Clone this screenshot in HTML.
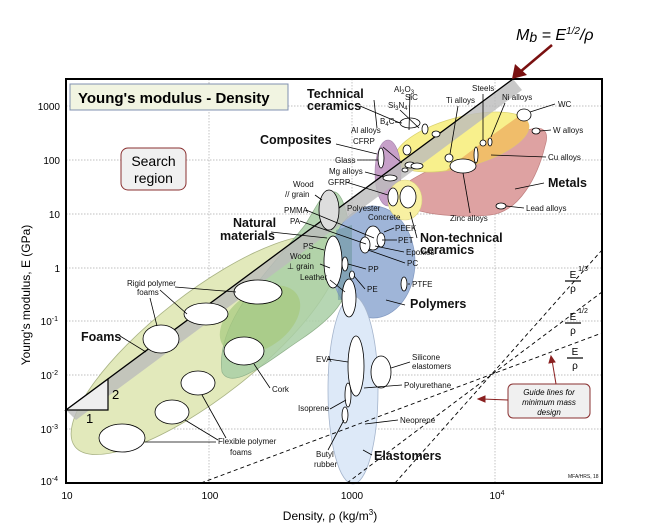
<!DOCTYPE html>
<html><head><meta charset="utf-8"><style>
body{margin:0;background:#fff}
svg{display:block;font-family:"Liberation Sans",Arial,sans-serif}
.s{font-size:8px;fill:#111}
.b{font-size:12.5px;font-weight:bold;fill:#111}
.w{fill:#fff;stroke:#000;stroke-width:0.8}
.l{stroke:#000;stroke-width:0.8;fill:none}
.g{stroke:#aaa;stroke-width:0.7;stroke-dasharray:1.5 1.5;fill:none}
</style></head><body>
<svg width="656" height="528" viewBox="0 0 656 528">
<defs>
<clipPath id="mc"><path d="M395,195 C400,178 470,152 528,130 C546,124 549,134 545,146 C538,175 520,212 490,215 C450,219 397,212 395,195Z"/></clipPath>
</defs>
<!-- grid -->
<g class="g">
<line x1="209" y1="79" x2="209" y2="483"/><line x1="352" y1="79" x2="352" y2="483"/><line x1="495" y1="79" x2="495" y2="483"/>
<line x1="66" y1="106" x2="602" y2="106"/><line x1="66" y1="160" x2="602" y2="160"/><line x1="66" y1="214" x2="602" y2="214"/>
<line x1="66" y1="268" x2="602" y2="268"/><line x1="66" y1="321" x2="602" y2="321"/><line x1="66" y1="375" x2="602" y2="375"/><line x1="66" y1="429" x2="602" y2="429"/>
</g>
<!-- regions -->
<ellipse cx="205" cy="345" rx="165" ry="52" transform="rotate(-38 205 345)" fill="#e2e9bb" stroke="#a9b384" stroke-width="0.8"/>
<path d="M222,372 C215,320 270,270 305,225 C318,205 322,190 335,192 C345,195 352,230 352,262 C352,300 330,320 300,340 C270,360 232,392 222,372Z" fill="#a9cfa6" fill-opacity="0.85" stroke="#8fb08a" stroke-width="0.7"/>
<ellipse cx="260" cy="320" rx="45" ry="28" transform="rotate(-35 260 320)" fill="#a6c97e" fill-opacity="0.7"/>
<ellipse cx="373" cy="262" rx="42" ry="56" fill="#9fb5d8" stroke="#8098c0" stroke-width="0.7"/>
<path d="M336,230 L352,225 L352,300 L338,300Z" fill="#6f98a0" fill-opacity="0.6"/>
<ellipse cx="353" cy="390" rx="25" ry="94" fill="#dde9f8" stroke="#a4b4cc" stroke-width="0.8"/>
<path d="M395,195 C400,178 470,152 528,130 C546,124 549,134 545,146 C538,175 520,212 490,215 C450,219 397,212 395,195Z" fill="#dea2a2" stroke="#c08080" stroke-width="0.7"/>
<ellipse cx="462" cy="142" rx="69" ry="25" transform="rotate(-15 462 142)" fill="#f8f08c" stroke="#d8d070" stroke-width="0.7"/>
<ellipse cx="462" cy="142" rx="69" ry="25" transform="rotate(-15 462 142)" fill="#f0bd6a" clip-path="url(#mc)"/>
<ellipse cx="388" cy="173" rx="13" ry="33" fill="#c7a0c9" stroke="#a080a8" stroke-width="0.6"/>
<ellipse cx="405" cy="200" rx="17" ry="20" fill="#f8f0a2" stroke="#d8d080" stroke-width="0.6"/>
<!-- gray band + line -->
<polygon points="66,410 513,79 522,90 76,420" fill="#bbb" fill-opacity="0.8"/>
<line x1="66" y1="410" x2="513" y2="79" stroke="#000" stroke-width="1.3"/>
<polygon points="66,410 108,410 108,379" fill="#eee" stroke="#000" stroke-width="1.2"/>
<text x="112" y="399" style="font-size:13px">2</text><text x="86" y="423" style="font-size:13px">1</text>
<!-- bubbles -->
<g class="w">
<ellipse cx="122" cy="438" rx="23" ry="14"/><ellipse cx="172" cy="412" rx="17" ry="12"/><ellipse cx="198" cy="383" rx="17" ry="12"/>
<ellipse cx="244" cy="351" rx="20" ry="14"/><ellipse cx="161" cy="339" rx="18" ry="14"/><ellipse cx="206" cy="314" rx="22" ry="11"/><ellipse cx="258" cy="292" rx="24" ry="12"/>
<ellipse cx="356" cy="366" rx="8" ry="30"/><ellipse cx="381" cy="372" rx="10" ry="16"/><ellipse cx="348" cy="395" rx="3" ry="12"/><ellipse cx="345" cy="415" rx="3" ry="8"/>
<ellipse cx="349" cy="298" rx="7" ry="19"/><ellipse cx="333" cy="262" rx="9" ry="26"/><ellipse cx="345" cy="264" rx="3" ry="7"/><ellipse cx="352" cy="275" rx="2.5" ry="4"/>
<ellipse cx="404" cy="284" rx="3" ry="7"/><ellipse cx="373" cy="238" rx="8" ry="12"/><ellipse cx="365" cy="245" rx="5" ry="8"/><ellipse cx="381" cy="240" rx="4" ry="7"/>
<ellipse cx="381" cy="158" rx="3" ry="10"/><ellipse cx="393" cy="197" rx="5" ry="9"/><ellipse cx="408" cy="197" rx="8" ry="11"/>
<ellipse cx="410" cy="123" rx="10" ry="5"/><ellipse cx="425" cy="129" rx="3" ry="5"/><ellipse cx="436" cy="134" rx="4" ry="3"/><ellipse cx="407" cy="150" rx="4" ry="5"/>
<ellipse cx="449" cy="158" rx="4" ry="4"/><ellipse cx="483" cy="143" rx="3" ry="3"/><ellipse cx="490" cy="142" rx="2" ry="4"/><ellipse cx="476" cy="155" rx="2" ry="8"/>
<ellipse cx="463" cy="166" rx="13" ry="7"/><ellipse cx="524" cy="115" rx="7" ry="6"/><ellipse cx="536" cy="131" rx="4" ry="3"/><ellipse cx="501" cy="206" rx="5" ry="3"/>
<ellipse cx="410" cy="165" rx="5" ry="3"/><ellipse cx="417" cy="166" rx="6" ry="3"/><ellipse cx="390" cy="178" rx="7" ry="3"/><ellipse cx="405" cy="170" rx="3" ry="2"/>
</g>
<ellipse cx="329" cy="210" rx="10" ry="20" fill="#ddd" stroke="#000" stroke-width="0.8"/>
<!-- guide lines -->
<g stroke="#000" stroke-width="0.9" stroke-dasharray="4 3" fill="none">
<line x1="201" y1="483" x2="602" y2="333"/><line x1="347" y1="483" x2="602" y2="292"/><line x1="395" y1="483" x2="602" y2="250"/>
</g>
<!-- frame -->
<rect x="66" y="79" width="536" height="404" fill="none" stroke="#000" stroke-width="2"/>
<!-- title & boxes -->
<rect x="70" y="84" width="218" height="26" fill="#f1f4e1" stroke="#8090b0" stroke-width="1"/>
<text x="78" y="103" style="font-size:15px;font-weight:bold">Young's modulus - Density</text>
<rect x="121" y="148" width="65" height="42" rx="7" fill="#f0f0f0" stroke="#8a3030" stroke-width="1"/>
<text x="153.5" y="166" text-anchor="middle" style="font-size:14px">Search</text><text x="153.5" y="183" text-anchor="middle" style="font-size:14px">region</text>
<rect x="508" y="384" width="82" height="34" rx="5" fill="#f0f0f0" stroke="#8a3030" stroke-width="1"/>
<text x="549" y="395" text-anchor="middle" style="font-size:8px;font-style:italic">Guide lines for</text>
<text x="549" y="405" text-anchor="middle" style="font-size:8px;font-style:italic">minimum mass</text>
<text x="549" y="415" text-anchor="middle" style="font-size:8px;font-style:italic">design</text>
<g stroke="#8a2020" stroke-width="1" fill="#8a2020">
<line x1="508" y1="400" x2="482" y2="399"/><polygon points="478,399 485,396 485,402"/>
<line x1="556" y1="384" x2="552" y2="360"/><polygon points="551,356 549,363 555,362"/>
</g>
<!-- Mb arrow -->
<line x1="552" y1="45" x2="520" y2="72" stroke="#7a1010" stroke-width="2.5"/><polygon points="512,79 515,64 527,75" fill="#7a1010"/>
<text x="516" y="40" style="font-size:16px;font-style:italic">M<tspan style="font-size:14px" dy="2">b</tspan><tspan dy="-2"> = E</tspan><tspan style="font-size:10px" dy="-6">1/2</tspan><tspan dy="6">/ρ</tspan></text>
<!-- E/rho labels -->
<g style="font-size:10px" text-anchor="middle">
<text x="573" y="278">E</text><text x="583" y="271" style="font-size:7px">1/3</text><line x1="565" y1="281" x2="581" y2="281" stroke="#000" stroke-width="1.2"/><text x="573" y="292">ρ</text>
<text x="573" y="320">E</text><text x="583" y="313" style="font-size:7px">1/2</text><line x1="565" y1="323" x2="581" y2="323" stroke="#000" stroke-width="1.2"/><text x="573" y="334">ρ</text>
<text x="575" y="355">E</text><line x1="567" y1="358" x2="583" y2="358" stroke="#000" stroke-width="1.2"/><text x="575" y="369">ρ</text>
</g>
<!-- category labels -->
<text class="b" x="307" y="98">Technical</text><text class="b" x="307" y="110">ceramics</text>
<text class="b" x="260" y="144">Composites</text>
<text class="b" x="548" y="187">Metals</text>
<text class="b" x="233" y="227">Natural</text><text class="b" x="220" y="240">materials</text>
<text class="b" x="420" y="242">Non-technical</text><text class="b" x="420" y="254">ceramics</text>
<text class="b" x="410" y="308">Polymers</text>
<text class="b" x="81" y="341">Foams</text>
<text class="b" x="374" y="460">Elastomers</text>
<g class="l">
<line x1="336" y1="144" x2="377" y2="154"/><line x1="544" y1="183" x2="515" y2="189"/><line x1="271" y1="232" x2="327" y2="238"/>
<line x1="417" y1="238" x2="410" y2="212"/><line x1="405" y1="305" x2="386" y2="300"/><line x1="120" y1="336" x2="146" y2="352"/>
<line x1="372" y1="455" x2="363" y2="450"/><line x1="360" y1="106" x2="400" y2="123"/>
</g>
<!-- small labels -->
<g class="s">
<text x="394" y="92">Al<tspan font-size="6" dy="2">2</tspan><tspan dy="-2">O</tspan><tspan font-size="6" dy="2">3</tspan></text>
<text x="405" y="100">SiC</text><text x="388" y="108">Si<tspan font-size="6" dy="2">3</tspan><tspan dy="-2">N</tspan><tspan font-size="6" dy="2">4</tspan></text>
<text x="380" y="124">B<tspan font-size="6" dy="2">4</tspan><tspan dy="-2">C</tspan></text>
<text x="446" y="103">Ti alloys</text><text x="472" y="91">Steels</text><text x="502" y="100">Ni alloys</text>
<text x="558" y="107">WC</text><text x="553" y="133">W alloys</text><text x="548" y="160">Cu alloys</text><text x="526" y="211">Lead alloys</text>
<text x="351" y="133">Al alloys</text><text x="353" y="144">CFRP</text><text x="335" y="163">Glass</text>
<text x="329" y="174">Mg alloys</text><text x="328" y="185">GFRP</text>
<text x="450" y="221">Zinc alloys</text><text x="368" y="220">Concrete</text><text x="347" y="211">Polyester</text>
<text x="395" y="231">PEEK</text><text x="398" y="243">PET</text><text x="406" y="255">Epoxies</text><text x="407" y="266">PC</text>
<text x="368" y="272">PP</text><text x="367" y="292">PE</text><text x="412" y="287">PTFE</text>
<text x="293" y="187">Wood</text><text x="285" y="197">// grain</text><text x="284" y="213">PMMA</text><text x="290" y="224">PA</text>
<text x="303" y="249">PS</text><text x="290" y="259">Wood</text><text x="287" y="269">⊥ grain</text><text x="300" y="280">Leather</text>
<text x="127" y="286">Rigid polymer</text><text x="137" y="295">foams</text>
<text x="272" y="392">Cork</text><text x="218" y="444">Flexible polymer</text><text x="230" y="455">foams</text>
<text x="316" y="362">EVA</text><text x="412" y="360">Silicone</text><text x="412" y="369">elastomers</text>
<text x="404" y="388">Polyurethane</text><text x="298" y="411">Isoprene</text><text x="400" y="423">Neoprene</text>
<text x="316" y="457">Butyl</text><text x="314" y="467">rubber</text>
<text x="568" y="478" style="font-size:5px">MFA/HRS, 18</text>
</g>
<g class="l">
<line x1="374" y1="100" x2="377" y2="128"/><line x1="410" y1="94" x2="409" y2="130"/><line x1="400" y1="110" x2="419" y2="128"/>
<line x1="395" y1="122" x2="402" y2="123"/><line x1="458" y1="106" x2="450" y2="154"/><line x1="483" y1="94" x2="483" y2="140"/>
<line x1="505" y1="103" x2="491" y2="137"/><line x1="555" y1="104" x2="530" y2="112"/><line x1="551" y1="130" x2="540" y2="131"/>
<line x1="546" y1="157" x2="491" y2="155"/><line x1="524" y1="208" x2="506" y2="206"/><line x1="470" y1="213" x2="463" y2="173"/>
<line x1="383" y1="147" x2="402" y2="163"/><line x1="357" y1="160" x2="378" y2="160"/><line x1="365" y1="172" x2="384" y2="177"/>
<line x1="346" y1="182" x2="388" y2="195"/><line x1="394" y1="228" x2="384" y2="232"/><line x1="397" y1="240" x2="382" y2="240"/>
<line x1="404" y1="252" x2="375" y2="246"/><line x1="405" y1="263" x2="368" y2="250"/><line x1="366" y1="269" x2="348" y2="264"/>
<line x1="365" y1="289" x2="354" y2="276"/><line x1="410" y1="284" x2="408" y2="284"/><line x1="315" y1="195" x2="322" y2="200"/>
<line x1="306" y1="210" x2="374" y2="238"/><line x1="300" y1="221" x2="366" y2="244"/><line x1="313" y1="247" x2="324" y2="250"/>
<line x1="320" y1="264" x2="330" y2="268"/><line x1="330" y1="280" x2="345" y2="292"/><line x1="175" y1="287" x2="236" y2="292"/>
<line x1="160" y1="290" x2="187" y2="314"/><line x1="150" y1="298" x2="157" y2="326"/><line x1="270" y1="388" x2="254" y2="364"/>
<line x1="216" y1="442" x2="145" y2="442"/><line x1="218" y1="440" x2="185" y2="420"/><line x1="226" y1="438" x2="202" y2="395"/>
<line x1="328" y1="359" x2="348" y2="362"/><line x1="410" y1="362" x2="391" y2="368"/><line x1="402" y1="385" x2="364" y2="388"/>
<line x1="330" y1="409" x2="346" y2="400"/><line x1="398" y1="420" x2="365" y2="424"/><line x1="328" y1="450" x2="344" y2="420"/>
</g>
<!-- axes labels -->
<g style="font-size:10px" text-anchor="end">
<text x="60" y="110">1000</text><text x="60" y="164">100</text><text x="60" y="218">10</text><text x="60" y="272">1</text>
<text x="58" y="325">10<tspan font-size="7" dy="-4">-1</tspan></text><text x="58" y="379">10<tspan font-size="7" dy="-4">-2</tspan></text>
<text x="58" y="433">10<tspan font-size="7" dy="-4">-3</tspan></text><text x="58" y="485">10<tspan font-size="7" dy="-4">-4</tspan></text>
</g>
<g style="font-size:10px" text-anchor="middle">
<text x="67" y="499">10</text><text x="210" y="499">100</text><text x="352" y="499">1000</text><text x="497" y="499">10<tspan font-size="7" dy="-4">4</tspan></text>
</g>
<text x="330" y="520" text-anchor="middle" style="font-size:12px">Density, ρ  (kg/m<tspan font-size="8" dy="-5">3</tspan><tspan dy="5">)</tspan></text>
<text transform="translate(30,295) rotate(-90)" text-anchor="middle" style="font-size:12px">Young's modulus, E (GPa)</text>
</svg>
</body></html>
